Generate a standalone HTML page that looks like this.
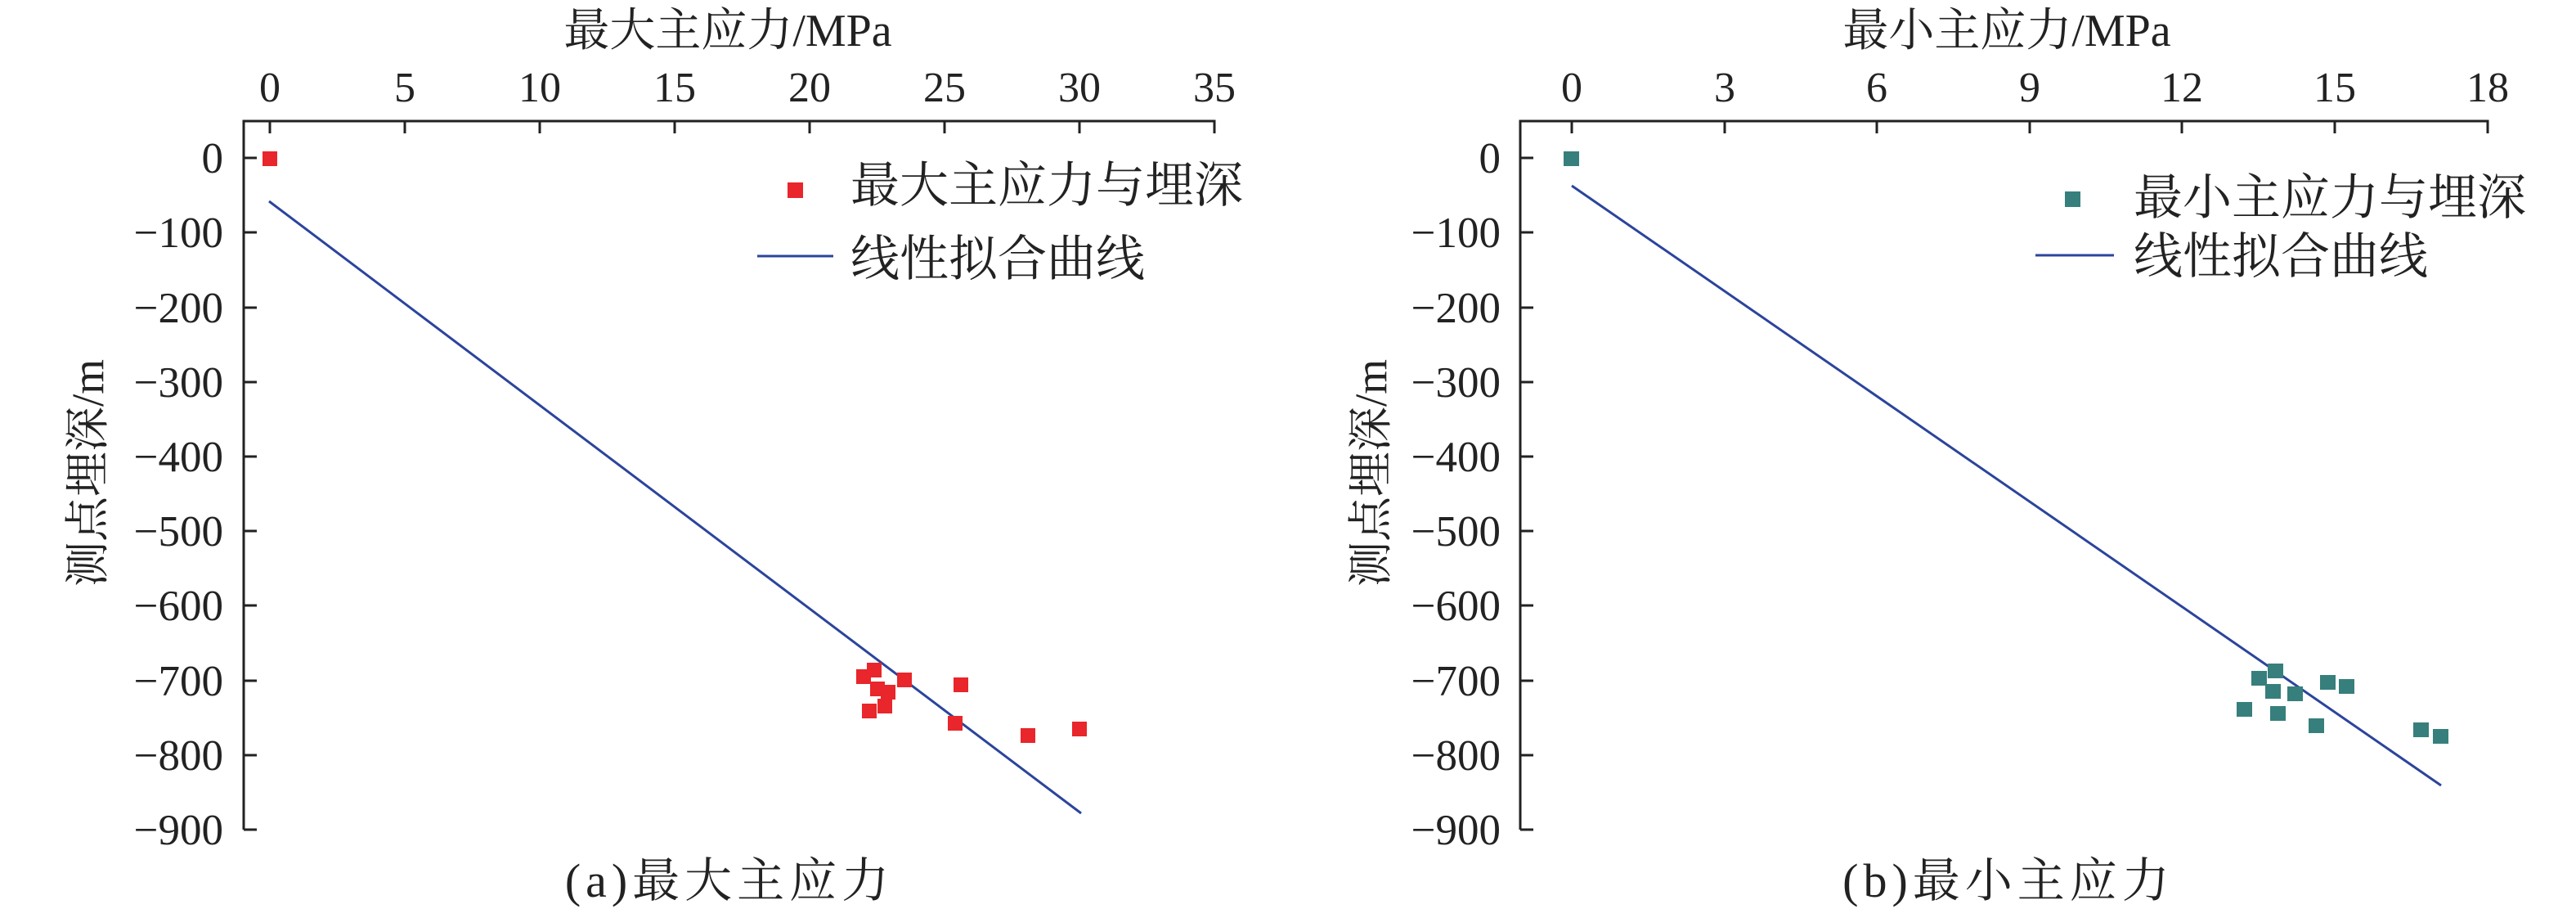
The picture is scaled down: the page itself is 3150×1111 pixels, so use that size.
<!DOCTYPE html>
<html><head><meta charset="utf-8"><style>
html,body{margin:0;padding:0;background:#fff;}
svg{display:block;}
svg text{font-family:"Liberation Serif","Noto Serif CJK SC","DejaVu Serif",serif;fill:#222;}
</style></head><body>
<svg width="3150" height="1111" viewBox="0 0 3150 1111" xmlns="http://www.w3.org/2000/svg" font-family="'Liberation Serif','Noto Serif CJK SC','DejaVu Serif',serif">
<!-- Left chart -->
<g stroke="#222" stroke-width="3" fill="none">
<path d="M298,1014 V148 H1485 V163"/>
<path d="M330,148v15 M495,148v15 M660,148v15 M825,148v15 M990,148v15 M1155,148v15 M1320,148v15"/>
<path d="M298,193h16 M298,284h16 M298,376h16 M298,467h16 M298,558h16 M298,649h16 M298,740h16 M298,832h16 M298,923h16 M298,1014h16"/>
</g>
<g font-size="52" text-anchor="middle">
<text x="330" y="124">0</text><text x="495" y="124">5</text><text x="660" y="124">10</text><text x="825" y="124">15</text><text x="990" y="124">20</text><text x="1155" y="124">25</text><text x="1320" y="124">30</text><text x="1485" y="124">35</text>
</g>
<g font-size="53" text-anchor="end">
<text x="273" y="211">0</text><text x="273" y="302">−100</text><text x="273" y="394">−200</text><text x="273" y="485">−300</text><text x="273" y="576">−400</text><text x="273" y="667">−500</text><text x="273" y="758">−600</text><text x="273" y="850">−700</text><text x="273" y="941">−800</text><text x="273" y="1032">−900</text>
</g>
<text x="890" y="56" font-size="56" text-anchor="middle">最大主应力/MPa</text>
<text transform="translate(126,578) rotate(-90)" font-size="55" text-anchor="middle">测点埋深/m</text>
<text x="892" y="1096" font-size="58" text-anchor="middle" letter-spacing="6">(a)最大主应力</text>
<line x1="329" y1="246" x2="1322" y2="994" stroke="#2b449c" stroke-width="3"/>
<g fill="#e8262b">
<rect x="321" y="185" width="18" height="18"/>
<rect x="1047" y="818" width="18" height="18"/><rect x="1060" y="810" width="18" height="18"/><rect x="1064" y="833" width="18" height="18"/><rect x="1077" y="837" width="18" height="18"/><rect x="1073" y="854" width="18" height="18"/><rect x="1054" y="860" width="18" height="18"/><rect x="1097" y="822" width="18" height="18"/><rect x="1166" y="828" width="18" height="18"/><rect x="1159" y="875" width="18" height="18"/><rect x="1248" y="890" width="18" height="18"/><rect x="1311" y="882" width="18" height="18"/>
<rect x="963" y="223" width="19" height="19"/>
</g>
<line x1="926" y1="313" x2="1019" y2="313" stroke="#2b449c" stroke-width="3"/>
<g font-size="60"><text x="1040" y="247">最大主应力与埋深</text><text x="1040" y="337">线性拟合曲线</text></g>

<!-- Right chart -->
<g stroke="#222" stroke-width="3" fill="none">
<path d="M1859,1014 V148 H3042 V163"/>
<path d="M1922,148v15 M2109,148v15 M2295,148v15 M2482,148v15 M2668,148v15 M2855,148v15"/>
<path d="M1859,193h16 M1859,284h16 M1859,376h16 M1859,467h16 M1859,558h16 M1859,649h16 M1859,740h16 M1859,832h16 M1859,923h16 M1859,1014h16"/>
</g>
<g font-size="52" text-anchor="middle">
<text x="1922" y="124">0</text><text x="2109" y="124">3</text><text x="2295" y="124">6</text><text x="2482" y="124">9</text><text x="2668" y="124">12</text><text x="2855" y="124">15</text><text x="3042" y="124">18</text>
</g>
<g font-size="53" text-anchor="end">
<text x="1835" y="211">0</text><text x="1835" y="302">−100</text><text x="1835" y="394">−200</text><text x="1835" y="485">−300</text><text x="1835" y="576">−400</text><text x="1835" y="667">−500</text><text x="1835" y="758">−600</text><text x="1835" y="850">−700</text><text x="1835" y="941">−800</text><text x="1835" y="1032">−900</text>
</g>
<text x="2454" y="56" font-size="56" text-anchor="middle">最小主应力/MPa</text>
<text transform="translate(1695,578) rotate(-90)" font-size="55" text-anchor="middle">测点埋深/m</text>
<text x="2456" y="1096" font-size="58" text-anchor="middle" letter-spacing="6">(b)最小主应力</text>
<line x1="1922" y1="227" x2="2985" y2="960" stroke="#2b449c" stroke-width="3"/>
<g fill="#367f7c">
<rect x="1912" y="185" width="19" height="18"/>
<rect x="2773" y="811" width="19" height="18"/><rect x="2753" y="820" width="19" height="18"/><rect x="2770" y="836" width="19" height="18"/><rect x="2797" y="839" width="19" height="18"/><rect x="2837" y="825" width="19" height="18"/><rect x="2860" y="830" width="19" height="18"/><rect x="2735" y="858" width="19" height="18"/><rect x="2776" y="863" width="19" height="18"/><rect x="2823" y="878" width="19" height="18"/><rect x="2951" y="883" width="19" height="18"/><rect x="2975" y="891" width="19" height="18"/>
<rect x="2525" y="234" width="19" height="19"/>
</g>
<line x1="2489" y1="312" x2="2585" y2="312" stroke="#2b449c" stroke-width="3"/>
<g font-size="60"><text x="2609" y="262">最小主应力与埋深</text><text x="2609" y="334">线性拟合曲线</text></g>
</svg>
</body></html>
